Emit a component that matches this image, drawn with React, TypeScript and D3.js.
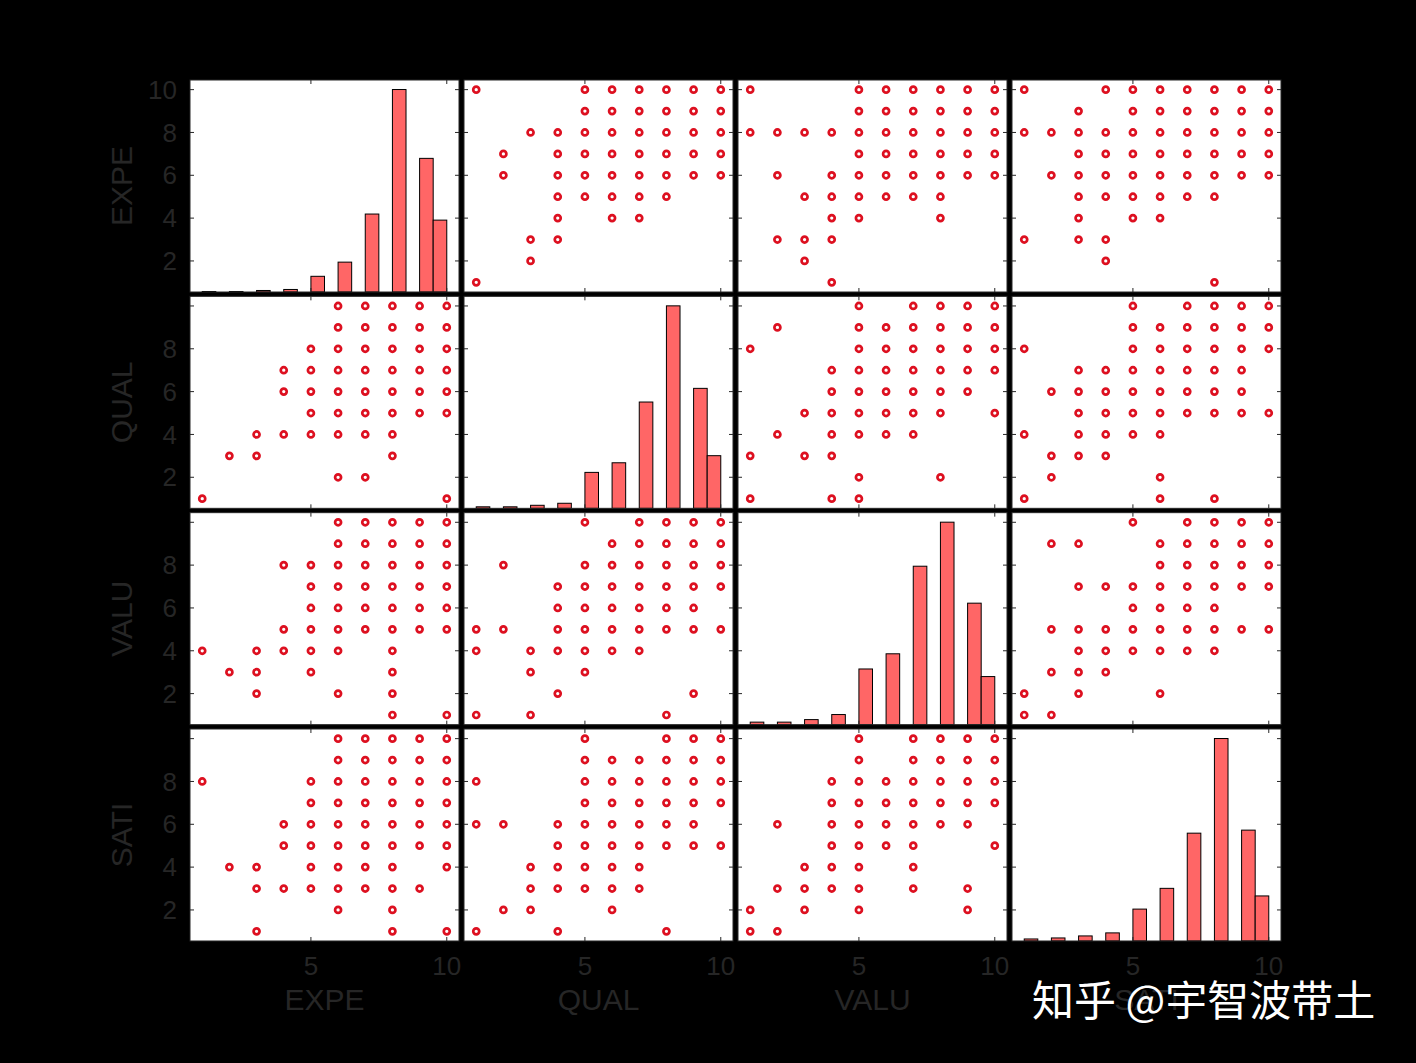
import React from "react";
import * as d3 from "d3";

// ---------- data ----------
const VARIABLES = ["EXPE", "QUAL", "VALU", "SATI"];
const VALUES = [1, 2, 3, 4, 5, 6, 7, 8, 9, 10];

// histogram heights per integer value 1..10 (relative counts)
const HIST_EXPE = [1, 1, 3, 5, 31, 59, 154, 400, 264, 142];
const HIST_QUAL = [3, 3, 6, 10, 71, 90, 210, 400, 237, 104];
const HIST_VALU = [5, 5, 10, 20, 110, 140, 313, 400, 240, 95];
const HIST_SATI = [4, 6, 10, 16, 63, 104, 213, 400, 219, 89];

// pair tables: index = value of first variable (1..10), list = values of second variable
const PAIR_EXPE_QUAL = [
  [1], [3], [3, 4], [4, 6, 7], [4, 5, 6, 7, 8],
  [2, 4, 5, 6, 7, 8, 9, 10], [2, 4, 5, 6, 7, 8, 9, 10], [3, 4, 5, 6, 7, 8, 9, 10],
  [5, 6, 7, 8, 9, 10], [1, 5, 6, 7, 8, 9, 10],
];
const PAIR_EXPE_VALU = [
  [4], [3], [2, 3, 4], [4, 5, 8], [3, 4, 5, 6, 7, 8],
  [2, 4, 5, 6, 7, 8, 9, 10], [5, 6, 7, 8, 9, 10], [1, 2, 3, 4, 5, 6, 7, 8, 9, 10],
  [5, 6, 7, 8, 9, 10], [1, 5, 6, 7, 8, 9, 10],
];
const PAIR_EXPE_SATI = [
  [8], [4], [1, 3, 4], [3, 5, 6], [3, 4, 5, 6, 7, 8],
  [2, 3, 4, 5, 6, 7, 8, 9, 10], [3, 4, 5, 6, 7, 8, 9, 10], [1, 2, 3, 4, 5, 6, 7, 8, 9, 10],
  [3, 5, 6, 7, 8, 9, 10], [1, 4, 5, 6, 7, 8, 9, 10],
];
const PAIR_QUAL_VALU = [
  [1, 4, 5], [5, 8], [1, 3, 4], [2, 4, 5, 6, 7], [3, 4, 5, 6, 7, 8, 10],
  [4, 5, 6, 7, 8, 9], [4, 5, 6, 7, 8, 9, 10], [1, 5, 6, 7, 8, 9, 10],
  [2, 5, 6, 7, 8, 9, 10], [5, 7, 8, 9, 10],
];
const PAIR_QUAL_SATI = [
  [1, 6, 8], [2, 6], [2, 3, 4], [1, 3, 4, 5, 6], [3, 4, 5, 6, 7, 8, 9, 10],
  [2, 3, 4, 5, 6, 7, 8, 9], [3, 4, 5, 6, 7, 8, 9], [1, 5, 6, 7, 8, 9, 10],
  [5, 6, 7, 8, 9, 10], [5, 7, 8, 9, 10],
];
const PAIR_VALU_SATI = [
  [1, 2], [1, 3, 6], [2, 3, 4], [3, 4, 5, 6, 7, 8], [2, 3, 4, 5, 6, 7, 8, 9, 10],
  [5, 6, 7, 8], [3, 4, 5, 6, 7, 8, 9, 10], [6, 7, 8, 9, 10],
  [2, 3, 6, 7, 8, 9, 10], [5, 7, 8, 9, 10],
];

const Y_TICKS = [2, 4, 6, 8, 10];
const X_TICKS = [5, 10];
const WATERMARK = "知乎 @宇智波带土";

// ---------- assembly ----------
const HISTS = [HIST_EXPE, HIST_QUAL, HIST_VALU, HIST_SATI];
const PAIRS: Record<string, number[][]> = {
  "0-1": PAIR_EXPE_QUAL,
  "0-2": PAIR_EXPE_VALU,
  "0-3": PAIR_EXPE_SATI,
  "1-2": PAIR_QUAL_VALU,
  "1-3": PAIR_QUAL_SATI,
  "2-3": PAIR_VALU_SATI,
};

function pointsFor(row: number, col: number): [number, number][] {
  const a = Math.min(row, col);
  const b = Math.max(row, col);
  const table = PAIRS[`${a}-${b}`];
  const pts: [number, number][] = [];
  table.forEach((list, idx) => {
    const av = VALUES[idx];
    list.forEach((bv) => {
      if (row < col) pts.push([bv, av]);
      else pts.push([av, bv]);
    });
  });
  return pts;
}

const W = 1416;
const H = 1063;
const LEFT = 190;
const TOP = 80;
const PW = 269;
const PH = 212;
const PITCH_X = 274;
const PITCH_Y = 216.33;

const AXIS = "#262626";
const RED = "#dd1020";
const BAR = "#ff6666";
const FONT = "'Liberation Sans', Arial, Helvetica, sans-serif";

export default function App() {
  const x = d3.scaleLinear().domain([0.55, 10.45]).range([0, PW]);
  const y = d3.scaleLinear().domain([0.55, 10.45]).range([PH, 0]);

  const panels: React.ReactNode[] = [];
  for (let r = 0; r < 4; r++) {
    for (let c = 0; c < 4; c++) {
      const px = LEFT + c * PITCH_X;
      const py = TOP + r * PITCH_Y;
      const content: React.ReactNode[] = [];
      if (r === c) {
        const counts = HISTS[r];
        const maxC = d3.max(counts) as number;
        const hy = d3.scaleLinear().domain([0, maxC * 1.047]).range([PH, 0]);
        counts.forEach((cnt, i) => {
          if (!cnt) return;
          const v = VALUES[i];
          const x0 = v < 10 ? v : 9.5;
          const x1 = x0 + 0.5;
          content.push(
            <rect
              key={`b${i}`}
              x={x(x0)}
              y={hy(cnt)}
              width={x(x1) - x(x0)}
              height={PH - hy(cnt)}
              fill={BAR}
              stroke="#000"
              strokeWidth={1}
            />
          );
        });
      } else {
        pointsFor(r, c).forEach(([vx, vy], i) => {
          content.push(
            <circle
              key={`p${i}`}
              cx={x(vx)}
              cy={y(vy)}
              r={3}
              fill="none"
              stroke={RED}
              strokeWidth={2.7}
            />
          );
        });
      }
      const ticks: React.ReactNode[] = [];
      Y_TICKS.forEach((t) => {
        ticks.push(<line key={`yl${t}`} x1={0} x2={4} y1={y(t)} y2={y(t)} stroke={AXIS} strokeWidth={1} />);
        ticks.push(<line key={`yr${t}`} x1={PW - 4} x2={PW} y1={y(t)} y2={y(t)} stroke={AXIS} strokeWidth={1} />);
      });
      X_TICKS.forEach((t) => {
        ticks.push(<line key={`xb${t}`} x1={x(t)} x2={x(t)} y1={PH} y2={PH - 4} stroke={AXIS} strokeWidth={1} />);
        ticks.push(<line key={`xt${t}`} x1={x(t)} x2={x(t)} y1={0} y2={4} stroke={AXIS} strokeWidth={1} />);
      });
      panels.push(
        <g key={`${r}-${c}`} transform={`translate(${px},${py})`}>
          <rect x={0} y={0} width={PW} height={PH} fill="#fff" />
          {content}
          {ticks}
          <rect x={0} y={0} width={PW} height={PH} fill="none" stroke={AXIS} strokeWidth={1} />
          {c === 0 &&
            (r === 0 ? Y_TICKS : Y_TICKS.slice(0, 4)).map((t) => (
              <text key={`ytl${t}`} x={-13} y={y(t)} dy="0.35em" textAnchor="end" fontSize={26} fill={AXIS} fontFamily={FONT}>
                {t}
              </text>
            ))}
          {c === 0 && (
            <text
              transform={`translate(${-58},${PH / 2}) rotate(-90)`}
              textAnchor="middle"
              fontSize={30}
              fill={AXIS}
              fontFamily={FONT}
            >
              {VARIABLES[r]}
            </text>
          )}
          {r === 3 &&
            X_TICKS.map((t) => (
              <text key={`xtl${t}`} x={x(t)} y={PH + 25} dy="0.35em" textAnchor="middle" fontSize={26} fill={AXIS} fontFamily={FONT}>
                {t}
              </text>
            ))}
          {r === 3 && (
            <text x={PW / 2} y={PH + 59} dy="0.35em" textAnchor="middle" fontSize={30} fill={AXIS} fontFamily={FONT}>
              {VARIABLES[c]}
            </text>
          )}
        </g>
      );
    }
  }

  return (
    <svg
      width={W}
      height={H}
      style={{ position: "absolute", left: 0, top: 0, display: "block" }}
      xmlns="http://www.w3.org/2000/svg"
    >
      <rect x={0} y={0} width={W} height={H} fill="#000" />
      {panels}
      <text
        x={1032}
        y={1001}
        dy="0.35em"
        fontSize={42}
        fill="#fff"
        fontFamily="'Noto Sans CJK SC', sans-serif"
      >
        {WATERMARK}
      </text>
    </svg>
  );
}
